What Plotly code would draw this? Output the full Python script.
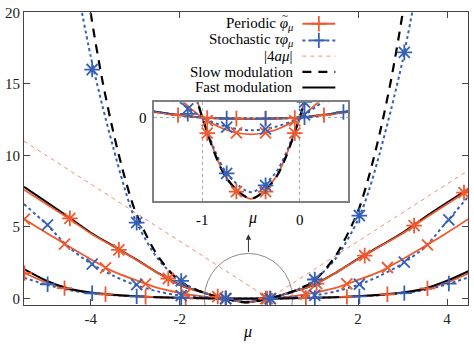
import plotly.graph_objects as go

# ---------------- data ----------------
# main panel, common grid of mu
MU = [-5.5, -5.0, -4.5, -4.0, -3.5, -3.0, -2.5, -2.0, -1.5, -1.0, -0.5,
      0.0, 0.5, 1.0, 1.5, 2.0, 2.5, 3.0, 3.5, 4.0, 4.5]
PER_PLUS = [1.80, 1.12, 0.65, 0.40, 0.25, 0.16, 0.09, 0.045, 0.018, 0.0, -0.004,
            0.0, 0.018, 0.045, 0.09, 0.16, 0.25, 0.40, 0.65, 1.12, 1.80]
STO_PLUS = [1.45, 0.98, 0.60, 0.37, 0.24, 0.15, 0.09, 0.045, 0.018, 0.0, -0.004,
            0.0, 0.018, 0.045, 0.09, 0.15, 0.24, 0.37, 0.60, 1.00, 1.50]
FAST_PLUS = [2.05, 1.25, 0.70, 0.42, 0.27, 0.17, 0.10, 0.05, 0.02, 0.0, -0.004,
             0.0, 0.02, 0.05, 0.10, 0.17, 0.27, 0.42, 0.70, 1.25, 1.95]
PER_X = [5.55, 4.60, 3.65, 2.75, 1.90, 1.30, 0.75, 0.40, 0.15, 0.0, -0.054,
         0.0, 0.15, 0.40, 0.75, 1.30, 1.90, 2.75, 3.65, 4.60, 5.60]
STO_X = [6.60, 5.20, 3.60, 2.45, 1.60, 0.95, 0.50, 0.22, 0.12, 0.0, -0.041,
         0.0, 0.12, 0.22, 0.50, 0.95, 1.60, 2.45, 3.60, 5.40, 7.20]
PER_STAR = [7.60, 6.60, 5.60, 4.55, 3.65, 2.75, 1.80, 0.95, 0.45, 0.0, -0.263,
            0.0, 0.45, 0.95, 1.80, 2.75, 3.65, 4.55, 5.60, 6.60, 7.60]
FAST_STAR = [7.80, 6.75, 5.70, 4.60, 3.68, 2.77, 1.80, 0.95, 0.45, 0.0, -0.26,
             0.0, 0.45, 0.95, 1.80, 2.77, 3.68, 4.60, 5.68, 6.70, 7.70]

# steep curves (stochastic '*' and slow modulation)
MU_STEEP = [-4.25, -4.0, -3.75, -3.5, -3.25, -3.0, -2.5, -2.0, -1.5, -1.0, -0.5,
            0.0, 0.5, 1.0, 1.5, 2.0, 2.25, 2.5, 2.75, 3.0, 3.25]
STO_STAR = [20.8, 16.9, 13.6, 10.6, 7.8, 5.5, 2.8, 1.25, 0.45, 0.0, -0.241,
            0.0, 0.45, 1.25, 2.8, 5.5, 7.6, 10.3, 13.3, 16.6, 20.5]
SLOW = [25.5, 19.9, 15.4, 11.7, 8.6, 6.1, 3.0, 1.2, 0.45, 0.0, -0.263,
        0.0, 0.45, 1.2, 3.0, 6.1, 8.6, 11.7, 15.4, 19.9, 25.5]

# |4 a mu|
MU_V = [-5.5, 0.0, 4.47]
ABS_4AMU = [11.0, 0.0, 8.94]

# markers in the main panel
MU_ORANGE_MK = [-5.49, -4.59, -3.67, -2.77, -1.87, -0.97, -0.07, 0.83, 1.75, 2.66, 3.56]
PER_PLUS_MK = [1.78, 0.73, 0.30, 0.12, 0.04, 0.0, 0.0, 0.04, 0.12, 0.30, 0.71]
PER_X_MK = [5.55, 3.80, 2.15, 1.03, 0.32, 0.0, 0.0, 0.31, 1.03, 2.17, 3.75]
MU_STAR_MK = [-4.47, -3.37, -2.26, -1.15, -0.04, 1.07, 2.15, 3.26, 4.38]
PER_STAR_MK = [5.60, 3.40, 1.40, 0.14, 0.0, 1.05, 3.00, 5.10, 7.40]
MU_BLUE_MK = [-4.97, -3.97, -2.97, -1.97, -0.97, 0.03, 1.03, 2.03, 3.04, 4.04]
STO_PLUS_MK = [1.00, 0.37, 0.15, 0.045, 0.0, 0.0, 0.045, 0.15, 0.38, 1.05]
STO_X_MK = [5.15, 2.40, 0.97, 0.21, 0.0, 0.0, 0.22, 1.00, 2.55, 5.50]
STO_STAR_MK = [None, 16.0, 5.3, 1.23, 0.0, 0.0, 1.33, 5.8, 17.2, None]

# inset (zoom around the minimum)
IN_MU = [-1.5, -1.25, -1.0, -0.75, -0.5, -0.25, 0.0, 0.25, 0.5]
IN_FAST_PLUS = [0.020, 0.009, 0.0, -0.003, -0.004, -0.003, 0.0, 0.009, 0.021]
IN_PER_PLUS = [0.018, 0.008, 0.0, -0.003, -0.004, -0.003, 0.0, 0.008, 0.018]
IN_STO_PLUS = [0.020, 0.009, 0.0, -0.003, -0.0035, -0.003, 0.0, 0.009, 0.020]
IN_PER_X = [0.16, 0.068, 0.0, -0.040, -0.054, -0.040, 0.0, 0.068, 0.16]
IN_STO_X = [0.13, 0.055, 0.0, -0.030, -0.041, -0.030, 0.0, 0.055, 0.13]
IN_PER_STAR = [0.62, 0.30, 0.0, -0.195, -0.263, -0.195, 0.0, 0.30, 0.62]
IN_STO_STAR = [0.58, 0.28, 0.0, -0.180, -0.241, -0.180, 0.0, 0.28, 0.58]
IN_SLOW = [0.64, 0.31, 0.0, -0.197, -0.262, -0.197, 0.0, 0.31, 0.64]

IN_MU_ORANGE_MK = [-1.25, -0.95, -0.65, -0.35, -0.05, 0.25]
IN_PER_PLUS_MK = [0.008, -0.001, -0.003, -0.003, -0.001, 0.008]
IN_PER_X_MK = [0.068, -0.010, -0.049, -0.049, -0.010, 0.068]
IN_PER_STAR_MK = [0.30, -0.050, -0.239, -0.239, -0.050, 0.30]
IN_MU_BLUE_MK = [-1.15, -0.75, -0.35, 0.05, 0.45]
IN_STO_PLUS_MK = [0.012, -0.003, -0.0035, 0.001, 0.018]
IN_STO_X_MK = [0.028, -0.031, -0.037, 0.009, 0.107]
IN_STO_STAR_MK = [0.166, -0.180, -0.219, 0.050, 0.58]

LEGEND_LABELS = ["Periodic <i>φ</i><sub><i>μ</i></sub>",
                 "Stochastic <i>τφ</i><sub><i>μ</i></sub>",
                 "|4<i>aμ</i>|",
                 "Slow modulation",
                 "Fast modulation"]

# ---------------- styling ----------------
ORANGE = '#ee5a2e'
BLUE = '#3461b5'
VCOL = '#f0906e'
SERIF = 'Liberation Serif'
W, H = 474, 345
L, R, T, B = 24, 469, 6, 305


def pxx(x):
    return (x - L) / (R - L)


def pxy(y):
    return (B - y) / (B - T)


fig = go.Figure()


def line(x, y, color, width, dash='solid', xa='x', ya='y', shape='spline'):
    fig.add_trace(go.Scatter(x=x, y=y, mode='lines',
                             line=dict(color=color, width=width, dash=dash, shape=shape,
                                       smoothing=0.8 if shape == 'spline' else None),
                             xaxis=xa, yaxis=ya, showlegend=False, hoverinfo='skip'))


def marks(x, y, color, symbol, size, xa='x', ya='y'):
    fig.add_trace(go.Scatter(x=x, y=y, mode='markers',
                             marker=dict(symbol=symbol, size=size, color=color,
                                         line=dict(color=color, width=1.8)),
                             xaxis=xa, yaxis=ya, showlegend=False, hoverinfo='skip'))


SLOW_DASH = '9px,7px'

# main panel
line(MU_V, ABS_4AMU, VCOL, 1, dash='4px,4px', shape='linear')
line(MU, FAST_STAR, 'black', 2)
line(MU, PER_PLUS, ORANGE, 1.8)
line(MU, PER_X, ORANGE, 1.8)
line(MU, PER_STAR, ORANGE, 1.8)
line(MU, STO_PLUS, BLUE, 2, dash='dot')
line(MU, STO_X, BLUE, 2, dash='dot')
line(MU_STEEP, STO_STAR, BLUE, 2, dash='dot')
line(MU, FAST_PLUS, 'black', 2)
line(MU_STEEP, SLOW, 'black', 2.2, dash=SLOW_DASH)
marks(MU_ORANGE_MK, PER_PLUS_MK, ORANGE, 'cross-thin-open', 11)
marks(MU_ORANGE_MK, PER_X_MK, ORANGE, 'x-thin-open', 11)
marks(MU_STAR_MK, PER_STAR_MK, ORANGE, 'asterisk-open', 13)
marks(MU_BLUE_MK, STO_PLUS_MK, BLUE, 'cross-thin-open', 11)
marks(MU_BLUE_MK, STO_X_MK, BLUE, 'x-thin-open', 11)
marks(MU_BLUE_MK, STO_STAR_MK, BLUE, 'asterisk-open', 13)

# inset
line(IN_MU, IN_FAST_PLUS, 'black', 2, xa='x2', ya='y2')
line(IN_MU, IN_PER_PLUS, ORANGE, 1.8, xa='x2', ya='y2')
line(IN_MU, IN_PER_X, ORANGE, 1.8, xa='x2', ya='y2')
line(IN_MU, IN_PER_STAR, ORANGE, 1.8, xa='x2', ya='y2')
line(IN_MU, IN_STO_PLUS, BLUE, 2, dash='dot', xa='x2', ya='y2')
line(IN_MU, IN_STO_X, BLUE, 2, dash='dot', xa='x2', ya='y2')
line(IN_MU, IN_STO_STAR, BLUE, 2, dash='dot', xa='x2', ya='y2')
line(IN_MU, IN_SLOW, 'black', 2.2, dash=SLOW_DASH, xa='x2', ya='y2')
marks(IN_MU_ORANGE_MK, IN_PER_PLUS_MK, ORANGE, 'cross-thin-open', 11, 'x2', 'y2')
marks(IN_MU_ORANGE_MK, IN_PER_X_MK, ORANGE, 'x-thin-open', 11, 'x2', 'y2')
marks(IN_MU_ORANGE_MK, IN_PER_STAR_MK, ORANGE, 'asterisk-open', 13, 'x2', 'y2')
marks(IN_MU_BLUE_MK, IN_STO_PLUS_MK, BLUE, 'cross-thin-open', 11, 'x2', 'y2')
marks(IN_MU_BLUE_MK, IN_STO_X_MK, BLUE, 'x-thin-open', 11, 'x2', 'y2')
marks(IN_MU_BLUE_MK, IN_STO_STAR_MK, BLUE, 'asterisk-open', 13, 'x2', 'y2')

# legend (manual, gnuplot style: text right-aligned, sample on the right)
ROWS = [18, 35, 51, 67, 83]
TXT_R, S0, S1 = 296, 303, 336
styles = [(ORANGE, 1.8, 'solid'), (BLUE, 2, 'dot'), (VCOL, 1, '4px,4px'),
          ('black', 2.2, SLOW_DASH), ('black', 2, 'solid')]
shapes = []
annotations = []
for lab, row, (c, w, d) in zip(LEGEND_LABELS, ROWS, styles):
    annotations.append(dict(text=lab, x=pxx(TXT_R), y=pxy(row), xref='paper', yref='paper',
                            xanchor='right', yanchor='middle', showarrow=False,
                            font=dict(family=SERIF, size=15, color='black')))
    shapes.append(dict(type='line', xref='paper', yref='paper', x0=pxx(S0), x1=pxx(S1),
                       y0=pxy(row), y1=pxy(row), line=dict(color=c, width=w, dash=d)))
# tilde accent over the phi of "Periodic"
annotations.append(dict(text='~', x=pxx(286), y=pxy(9), xref='paper', yref='paper',
                        xanchor='center', yanchor='middle', showarrow=False,
                        font=dict(family=SERIF, size=11, color='black')))
fig.add_trace(go.Scatter(x=[pxx((S0 + S1) / 2)] * 2, y=[pxy(ROWS[0]), pxy(ROWS[1])],
                         mode='markers', xaxis='x3', yaxis='y3', showlegend=False,
                         hoverinfo='skip',
                         marker=dict(symbol='cross-thin-open', size=11,
                                     color=[ORANGE, BLUE],
                                     line=dict(color=[ORANGE, BLUE], width=1.8))))

# zoom indicator: semicircle and arrow
shapes.append(dict(type='circle', xref='x', yref='y', x0=-1.45, x1=0.53, y0=-3.15, y1=3.15,
                   line=dict(color='#8a8a8a', width=1), layer='below'))
annotations.append(dict(x=-0.46, y=4.5, ax=-0.46, ay=3.15, xref='x', yref='y',
                        axref='x', ayref='y', showarrow=True, arrowhead=2, arrowsize=1.1,
                        arrowwidth=1, arrowcolor='#333', text=''))

# axis labels
annotations.append(dict(text='<i>μ</i>', x=pxx(248), y=pxy(333), xref='paper', yref='paper',
                        showarrow=False, xanchor='center', yanchor='middle',
                        font=dict(family=SERIF, size=16, color='black')))
# inset labels
for v, t in [(-1, '-1'), (0, '0')]:
    annotations.append(dict(text=t, x=v, y=pxy(218), xref='x2', yref='paper', showarrow=False,
                            xanchor='center', yanchor='middle',
                            font=dict(family=SERIF, size=15, color='black')))
annotations.append(dict(text='<i>μ</i>', x=-0.48, y=pxy(216), xref='x2', yref='paper',
                        showarrow=False, xanchor='center', yanchor='middle',
                        font=dict(family=SERIF, size=16, color='black')))
annotations.append(dict(text='0', x=pxx(149), y=0, xref='paper', yref='y2', showarrow=False,
                        xanchor='right', yanchor='middle',
                        font=dict(family=SERIF, size=15, color='black')))

AX = '#444'
fig.update_layout(
    width=W, height=H,
    margin=dict(l=L, r=W - R, t=T, b=H - B),
    paper_bgcolor='white', plot_bgcolor='rgba(0,0,0,0)',
    showlegend=False,
    shapes=shapes, annotations=annotations,
    xaxis=dict(domain=[0, 1], range=[-5.5, 4.47], anchor='y',
               tickvals=[-4, -2, 2, 4], ticktext=['-4', '-2', '2', '4'],
               ticks='inside', ticklen=6, tickcolor=AX, showline=True, linecolor=AX,
               linewidth=1, mirror='ticks', showgrid=False, zeroline=False,
               ticklabeloverflow='allow',
               tickfont=dict(family=SERIF, size=15, color='#222')),
    yaxis=dict(domain=[0, 1], range=[-0.45, 20.02], anchor='x',
               tickvals=[0, 5, 10, 15, 20], ticktext=['0', '5', '10', '15', '20'],
               ticks='inside', ticklen=6, tickcolor=AX, showline=True, linecolor=AX,
               linewidth=1, mirror='ticks', showgrid=False, zeroline=False,
               ticklabeloverflow='allow',
               tickfont=dict(family=SERIF, size=15, color='#222')),
    xaxis2=dict(domain=[pxx(154), pxx(349)], range=[-1.5, 0.5], anchor='y2',
                tickvals=[-1, 0], showticklabels=False, ticks='',
                showline=True, mirror=True, linecolor='#808080', linewidth=1.5,
                showgrid=True, gridcolor='#aaaaaa', griddash='dot', gridwidth=1,
                zeroline=False),
    yaxis2=dict(domain=[pxy(199), pxy(98)], range=[-0.27, 0.05], anchor='x2',
                tickvals=[0], showticklabels=False, ticks='',
                showline=True, mirror=True, linecolor='#808080', linewidth=1.5,
                showgrid=True, gridcolor='#aaaaaa', griddash='dot', gridwidth=1,
                zeroline=False),
    xaxis3=dict(domain=[0, 1], range=[0, 1], anchor='y3', visible=False, fixedrange=True),
    yaxis3=dict(domain=[0, 1], range=[0, 1], anchor='x3', visible=False, fixedrange=True),
)

fig.write_html("out.html")
